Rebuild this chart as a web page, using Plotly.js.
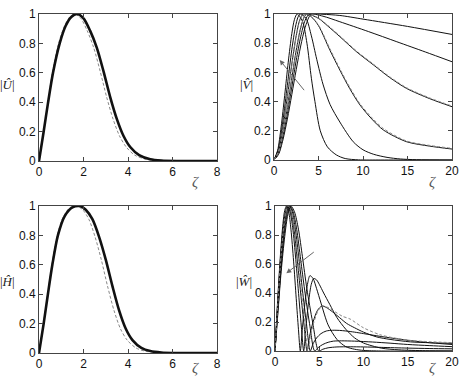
<!DOCTYPE html>
<html><head><meta charset="utf-8">
<script src="https://cdn.plot.ly/plotly-3.0.1.min.js"></script>
<style>html,body{margin:0;padding:0;background:#fff}#g{width:474px;height:377px}</style>
</head><body><div id="g"></div>
<script>
// ---------- Panel 1: |U| ----------
const U_x  = [0,0.2,0.4,0.63,0.93,1.2,1.45,1.71,2.0,2.3,2.6,2.9,3.2,3.5,3.8,4.1,4.5,5.0,5.5,6.2,8];
const U_y  = [0,0.19,0.39,0.6,0.8,0.92,0.98,1,0.97,0.885,0.77,0.61,0.435,0.285,0.17,0.095,0.04,0.012,0.003,0,0];
const Ud_x = [0,0.2,0.4,0.6,0.88,1.15,1.38,1.6,1.88,2.17,2.46,2.75,3.04,3.33,3.62,3.92,4.3,4.8,5.3,6.0,8];
const Ud_y = [0,0.19,0.39,0.6,0.8,0.92,0.98,1,0.97,0.885,0.77,0.61,0.435,0.285,0.17,0.095,0.04,0.012,0.003,0,0];
// ---------- Panel 3: |H| ----------
const H_x  = [0,0.21,0.4,0.6,0.85,1.15,1.5,1.83,2.1,2.4,2.7,3.0,3.3,3.6,3.9,4.2,4.6,5.0,5.5,6.0,8];
const H_y  = [0,0.2,0.4,0.6,0.8,0.93,0.99,1,0.975,0.91,0.79,0.635,0.455,0.29,0.165,0.088,0.035,0.013,0.003,0,0];
const Hd_x = [0,0.2,0.39,0.58,0.82,1.1,1.4,1.7,1.96,2.24,2.52,2.8,3.08,3.37,3.66,3.96,4.35,4.75,5.25,5.8,8];
const Hd_y = [0,0.2,0.4,0.6,0.8,0.93,0.99,1,0.975,0.91,0.79,0.635,0.455,0.29,0.165,0.088,0.035,0.013,0.003,0,0];
// ---------- Panel 2: |V| ----------
const V1_x = [0,0.4,0.8,1.2,1.6,2.0,2.3,2.6,3.2,3.7,4.2,4.6,5.2,6,7,8,9.5,12,16,20];
const V1_y = [0,0.064,0.226,0.442,0.67,0.865,0.963,1,0.95,0.8,0.56,0.4,0.2,0.09,0.035,0.01,0.001,0,0,0];
const V2_x = [0,0.5,1.0,1.5,2.0,2.4,2.7,2.95,3.6,4.2,4.8,5.5,6.3,7.4,8.9,10,11.2,12.7,14.2,16,20];
const V2_y = [0,0.076,0.267,0.512,0.756,0.909,0.979,1,0.97,0.85,0.69,0.52,0.38,0.26,0.125,0.07,0.039,0.018,0.007,0.002,0];
const V3_x = [0,0.5,1.0,1.5,2.0,2.5,2.9,3.3,4.2,5,6.3,7.4,8.5,9.66,11,12.3,14.9,17.5,20];
const V3_y = [0,0.062,0.22,0.433,0.657,0.853,0.96,1,0.98,0.92,0.75,0.616,0.49,0.377,0.28,0.205,0.125,0.095,0.075];
const V4_x = [0,0.5,1.0,1.5,2.0,2.5,3.0,3.4,3.7,5,6,7.4,9.3,11.2,13,14.9,17.5,20];
const V4_y = [0,0.05,0.179,0.359,0.561,0.753,0.907,0.981,1,0.97,0.92,0.845,0.74,0.65,0.565,0.49,0.42,0.365];
const V5_x = [0,0.5,1.0,1.5,2.0,2.5,3.0,3.5,4.0,5.5,7.4,10.6,13.8,17,20];
const V5_y = [0,0.043,0.156,0.316,0.5,0.684,0.844,0.957,1,0.985,0.947,0.88,0.81,0.74,0.673];
const V6_x = [0,0.5,1.0,1.5,2.0,2.5,3.0,3.5,4.0,4.3,5.5,7.4,10,15,20];
const V6_y = [0,0.037,0.137,0.28,0.448,0.62,0.781,0.909,0.986,1,0.998,0.99,0.965,0.915,0.86];
const Vd1_x = [0,0.5,1.0,1.5,2.0,2.5,2.9,3.35,4.2,5,6.3,7.4,8.5,9.66,11,12.3,14.9,17.5,20];
const Vd1_y = [0,0.06,0.21,0.42,0.645,0.845,0.955,1,0.98,0.925,0.76,0.625,0.5,0.385,0.29,0.215,0.13,0.1,0.08];
const Vd2_x = [0,0.5,1.0,1.5,2.0,2.5,3.0,3.4,3.75,5,6,7.4,9.3,11.2,13,14.9,17.5,20];
const Vd2_y = [0,0.048,0.172,0.35,0.55,0.745,0.9,0.978,1,0.972,0.925,0.85,0.745,0.655,0.57,0.495,0.425,0.37];
// ---------- Panel 4: |W| ----------
const W1_x = [0,0.3,0.6,0.9,1.1,1.3,1.55,1.8,2.1,2.4,2.65,2.86,3.1,3.4,3.7,3.95,4.3,4.7,5.2,6,7,8,9,10,12,20];
const W1_y = [0,0.35,0.65,0.88,0.97,1,0.96,0.84,0.62,0.36,0.15,0,0.16,0.34,0.47,0.52,0.5,0.43,0.33,0.18,0.08,0.03,0.012,0.004,0,0];
const W2_x = [0,0.3,0.6,0.9,1.15,1.4,1.7,2.0,2.35,2.7,3.0,3.24,3.5,3.8,4.1,4.37,4.7,5.0,5.5,6.2,7,8,9,10,12,14,17,20];
const W2_y = [0,0.33,0.62,0.84,0.95,1,0.96,0.85,0.63,0.37,0.15,0,0.17,0.34,0.46,0.5,0.49,0.46,0.4,0.32,0.23,0.15,0.09,0.055,0.02,0.008,0.002,0];
const W3_x = [0,0.3,0.6,0.9,1.2,1.5,1.8,2.15,2.5,2.9,3.3,3.62,3.9,4.3,4.8,5.3,5.8,6.5,7.3,8.1,9,10,11.5,13,15.3,17.5,20];
const W3_y = [0,0.31,0.59,0.81,0.95,1,0.96,0.84,0.64,0.4,0.17,0,0.1,0.2,0.28,0.31,0.3,0.27,0.23,0.19,0.16,0.13,0.097,0.08,0.063,0.057,0.053];
const W4_x = [0,0.3,0.65,1.0,1.3,1.6,1.95,2.3,2.7,3.1,3.55,3.99,4.3,4.7,5.2,5.8,6.5,7.3,8,9,10,12,14.5,17,20];
const W4_y = [0,0.29,0.59,0.82,0.95,1,0.96,0.84,0.64,0.42,0.19,0,0.05,0.09,0.12,0.138,0.143,0.142,0.138,0.13,0.12,0.1,0.078,0.06,0.045];
const W5_x = [0,0.35,0.7,1.05,1.4,1.7,2.05,2.45,2.9,3.35,3.9,4.49,4.9,5.4,6,6.6,7.5,9,11,13,15,17.5,20];
const W5_y = [0,0.3,0.58,0.81,0.95,1,0.96,0.84,0.63,0.42,0.19,0,0.025,0.045,0.06,0.068,0.07,0.068,0.062,0.054,0.045,0.037,0.03];
const W6_x = [0,0.35,0.7,1.1,1.45,1.8,2.2,2.65,3.1,3.6,4.25,4.94,5.4,6,7,8.5,10,12,15,17.5,20];
const W6_y = [0,0.28,0.55,0.79,0.94,1,0.96,0.84,0.65,0.43,0.2,0,0.012,0.022,0.028,0.029,0.028,0.025,0.02,0.017,0.015];
const Wd_x = [0,0.3,0.6,0.9,1.2,1.5,1.85,2.2,2.6,3.0,3.4,3.72,4.0,4.4,4.9,5.4,6,6.8,7.6,8.5,10,12,15,17.5,20];
const Wd_y = [0,0.31,0.59,0.81,0.95,1,0.96,0.84,0.64,0.4,0.17,0,0.1,0.2,0.28,0.31,0.3,0.27,0.24,0.22,0.16,0.11,0.075,0.064,0.058];
// tick labels
const yTicks = [0,0.2,0.4,0.6,0.8,1];
const yTickText = ['0','0.2','0.4','0.6','0.8','1'];
const xTicksShort = [0,2,4,6,8];
const xTicksLong = [0,5,10,15,20];

const BLACK = '#111', GRAY = '#888';
function solid(x,y,ax,w){return {x:x,y:y,xaxis:'x'+ax,yaxis:'y'+ax,mode:'lines',hoverinfo:'skip',showlegend:false,
  line:{color:BLACK,width:w||1,shape:'spline',smoothing:0.8}};}
function dashed(x,y,ax){return {x:x,y:y,xaxis:'x'+ax,yaxis:'y'+ax,mode:'lines',hoverinfo:'skip',showlegend:false,
  line:{color:GRAY,width:1,dash:'3px,2px',shape:'spline',smoothing:0.8}};}

const data = [
  dashed(Ud_x,Ud_y,''), solid(U_x,U_y,'',2.6),
  solid(V1_x,V1_y,'2'),solid(V2_x,V2_y,'2'),solid(V3_x,V3_y,'2'),solid(V4_x,V4_y,'2'),solid(V5_x,V5_y,'2'),solid(V6_x,V6_y,'2'),
  dashed(Vd1_x,Vd1_y,'2'),dashed(Vd2_x,Vd2_y,'2'),
  dashed(Hd_x,Hd_y,'3'), solid(H_x,H_y,'3',2.6),
  solid(W1_x,W1_y,'4'),solid(W2_x,W2_y,'4'),solid(W3_x,W3_y,'4'),solid(W4_x,W4_y,'4'),solid(W5_x,W5_y,'4'),solid(W6_x,W6_y,'4'),
  dashed(Wd_x,Wd_y,'4')
];
data[0].xaxis='x'; data[0].yaxis='y'; data[1].xaxis='x'; data[1].yaxis='y';

const tickFont = {family:'Liberation Sans, Arial, sans-serif', size:12, color:'#111'};
function xax(dom, anchor, range, vals){return {domain:dom, anchor:anchor, range:range, tickvals:vals, ticktext:vals.map(String),
  ticks:'inside', ticklen:4, tickcolor:'#444', showline:true, linecolor:'#444', linewidth:1, mirror:'ticks',
  showgrid:false, zeroline:false, tickfont:tickFont, fixedrange:true};}
function yax(dom, anchor){return {domain:dom, anchor:anchor, range:[0,1], tickvals:yTicks, ticktext:yTickText,
  ticks:'inside', ticklen:4, tickcolor:'#444', showline:true, linecolor:'#444', linewidth:1, mirror:'ticks',
  showgrid:false, zeroline:false, tickfont:tickFont, fixedrange:true};}

const W=474,Hh=377;
const px = v=>v/W, py = v=>1-v/Hh;
const labFont = {family:'Liberation Serif, DejaVu Serif, serif', size:13, color:'#222'};
const zetaFont = {family:'Liberation Serif, DejaVu Serif, serif', size:15, color:'#555'};
function lab(t,x,y,f){return {text:t,xref:'paper',yref:'paper',x:px(x),y:py(y),showarrow:false,font:f||labFont,xanchor:'center',yanchor:'middle'};}

const layout = {
  width:W, height:Hh, margin:{l:0,r:0,t:0,b:0}, paper_bgcolor:'#fff', plot_bgcolor:'#fff', showlegend:false,
  xaxis: xax([px(39),px(217)],'y',[0,8],xTicksShort),
  yaxis: yax([py(161),py(14)],'x'),
  xaxis2: xax([px(274),px(452)],'y2',[0,20],xTicksLong),
  yaxis2: yax([py(160),py(14)],'x2'),
  xaxis3: xax([px(39),px(217)],'y3',[0,8],xTicksShort),
  yaxis3: yax([py(353),py(206)],'x3'),
  xaxis4: xax([px(275),px(452)],'y4',[0,20],xTicksLong),
  yaxis4: yax([py(351),py(206)],'x4'),
  annotations:[
    lab('|<i>Û</i>|',8,84), lab('|<i>V̂</i>|',246,84), lab('|<i>Ĥ</i>|',7,281), lab('|<i>Ŵ</i>|',244,281),
    lab('<i>ζ</i>',195,182,zetaFont), lab('<i>ζ</i>',432,182,zetaFont), lab('<i>ζ</i>',195,368,zetaFont), lab('<i>ζ</i>',432,368,zetaFont),
    {xref:'x2',yref:'y2',axref:'x2',ayref:'y2',x:0.64,y:0.685,ax:3.52,ay:0.468,showarrow:true,arrowhead:2,arrowsize:1,arrowwidth:1,arrowcolor:'#666',text:''},
    {xref:'x4',yref:'y4',axref:'x4',ayref:'y4',x:1.28,y:0.536,ax:4.55,ay:0.69,showarrow:true,arrowhead:2,arrowsize:1,arrowwidth:1,arrowcolor:'#666',text:''}
  ]
};
Plotly.newPlot('g', data, layout, {staticPlot:true, displayModeBar:false});
</script></body></html>
